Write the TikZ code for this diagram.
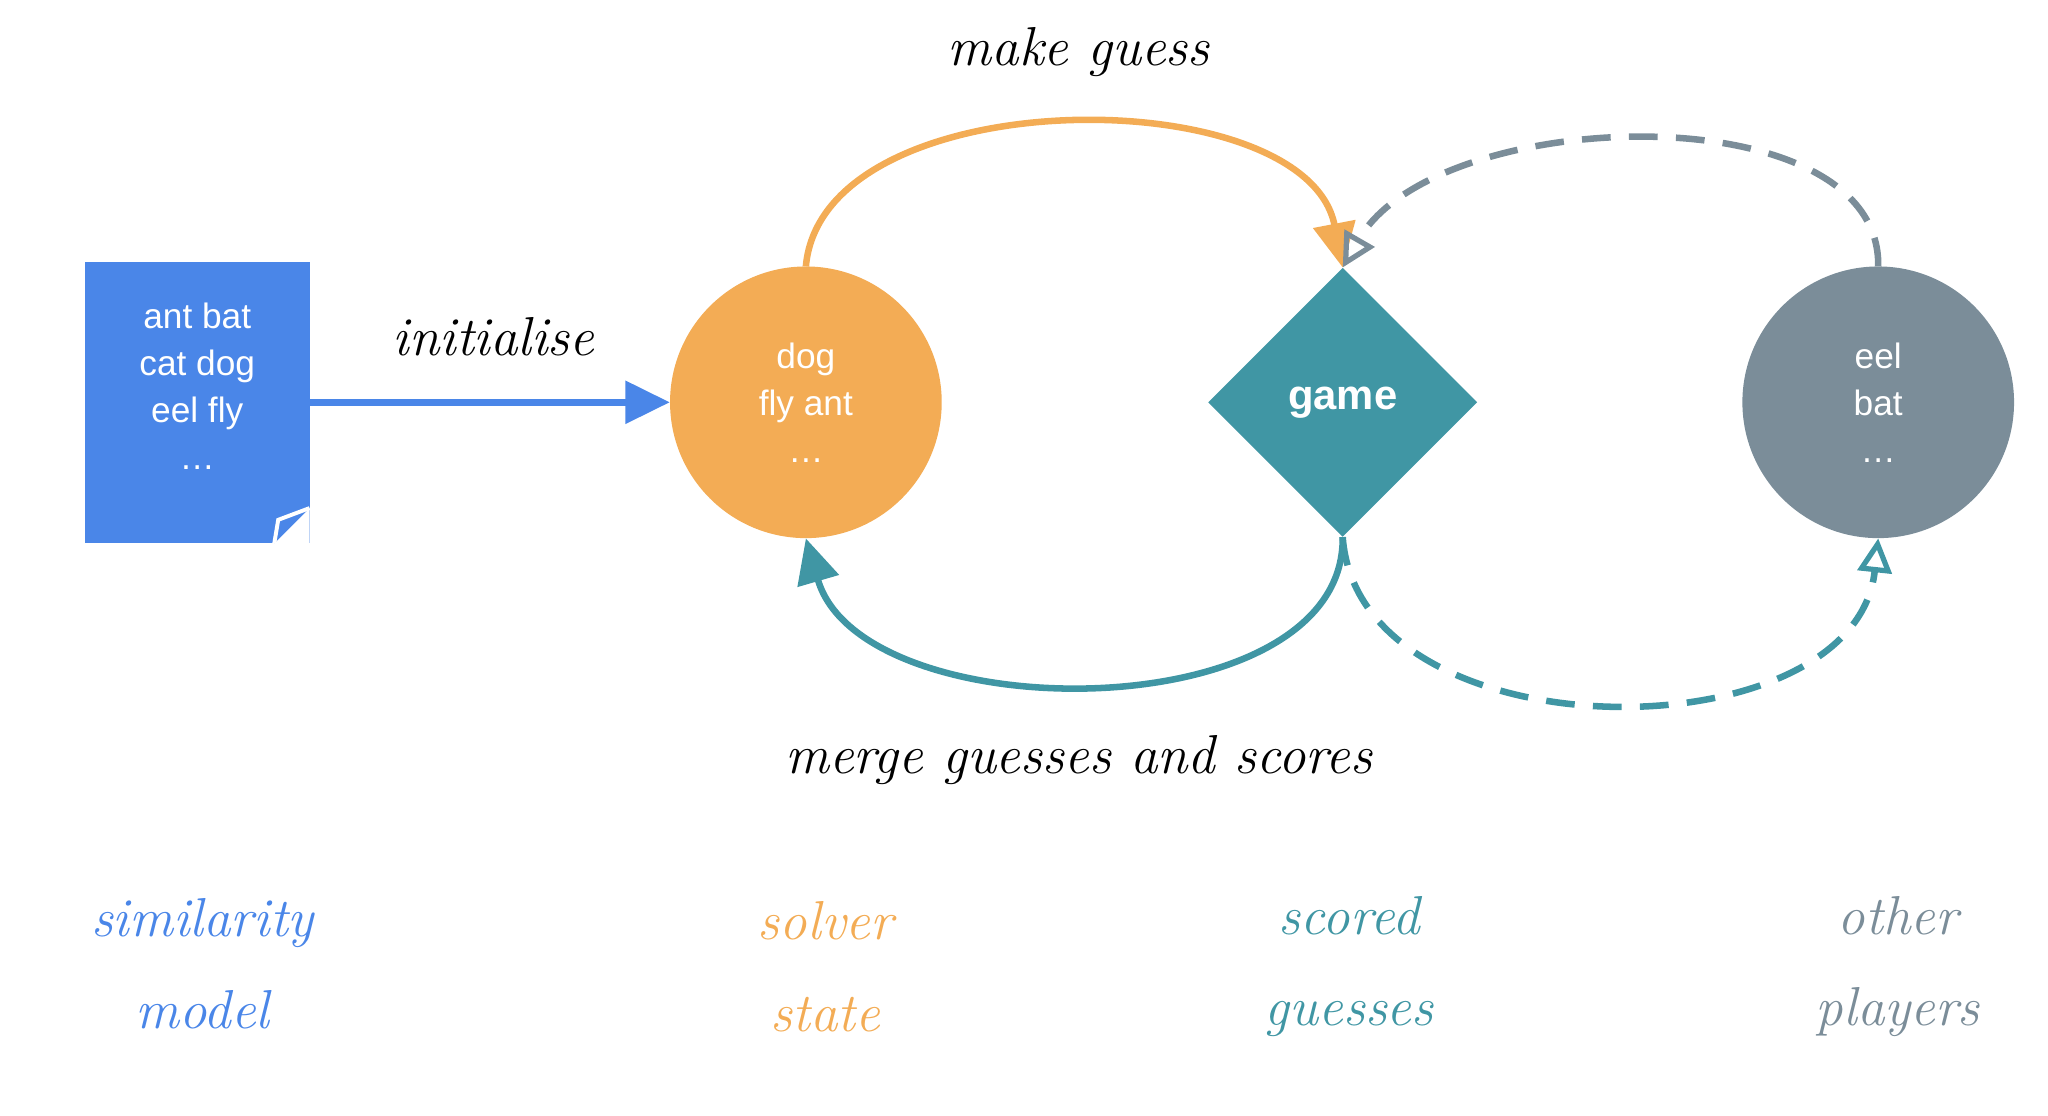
\documentclass[tikz,border=0pt]{standalone}
\usepackage{fontspec}
\newfontfamily\arialf{Liberation Sans}
\usetikzlibrary{shapes.geometric,arrows.meta}
\definecolor{cblue}{HTML}{4A86E8}
\definecolor{corange}{HTML}{F3AC55}
\definecolor{cteal}{HTML}{4096A4}
\definecolor{cgrey}{HTML}{7B8D99}
\begin{document}
\begin{tikzpicture}[x=1pt,y=-1pt,
  body/.style={text=white,font=\arialf\fontsize{27}{36}\selectfont,align=center},
  hand/.style={font=\fontsize{42}{70}\selectfont\itshape},
  link/.style={line width=5pt},
  fillarrow/.style={-{Triangle[length=34pt,width=32pt]}},
  openarrow/.style={-{Triangle[open,length=26pt,width=26pt,line width=4pt]}},
  mydash/.style={dash pattern=on 22pt off 14pt}]
\useasboundingbox (0,0) rectangle (1568,854);
\node[fill=cblue,minimum width=172pt,minimum height=215pt,inner sep=0pt] (doc) at (151,308) {};
\node[body] (doctext) at (151,296) {ant bat\\cat dog\\eel fly\\\dots};
\fill[white] (210,416) -- (237,416) -- (237,389) -- cycle;
\draw[white,line width=3pt,fill=cblue] (237,389) -- (213,398) -- (210,416);
\node[body,circle,fill=corange,minimum size=208pt] (solver) at (617,308) {dog\\fly ant\\\dots};
\node[diamond,fill=cteal,minimum width=206pt,minimum height=206pt,inner sep=0pt,text=white,font=\arialf\bfseries\fontsize{32}{38}\selectfont] (game) at (1028,308) {\raisebox{-6pt}{game}};
\node[body,circle,fill=cgrey,minimum size=208pt] (other) at (1438,308) {eel\\bat\\\dots};
\draw[link,cblue,fillarrow] (doc.east) -- (solver.west);
\node[hand] (init) at (378,258) {initialise};
\draw[link,corange,fillarrow] (solver.north) .. controls (630,60) and (1000,60) .. (game.north);
\draw[link,cgrey,mydash,openarrow] (other.north) .. controls (1440,70) and (1100,80) .. (game.north);
\node[hand] (mk) at (826,40) {make guess};
\draw[link,cteal,fillarrow] (game.south) .. controls (1030,560) and (660,560) .. (solver.south);
\draw[link,cteal,mydash,openarrow] (game.south) .. controls (1040,580) and (1420,580) .. (other.south);
\node[hand] (mg) at (826,582) {merge guesses and scores};
\node[hand,text=cblue,align=center] (l1) at (155,738) {similarity\\model};
\node[hand,text=corange,align=center] (l2) at (632,740) {solver\\state};
\node[hand,text=cteal,align=center] (l3) at (1033,740) {scored\\guesses};
\node[hand,text=cgrey,align=center] (l4) at (1453,740) {other\\players};
\end{tikzpicture}
\end{document}
